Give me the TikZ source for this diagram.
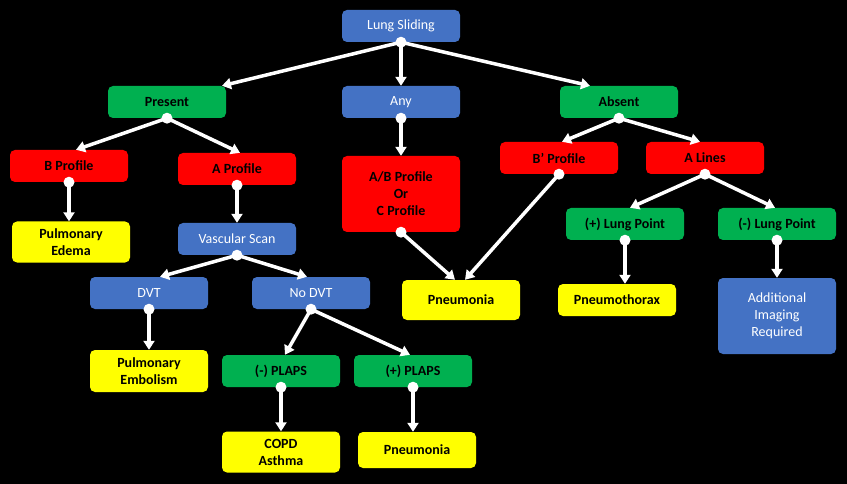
\documentclass[tikz,border=0pt]{standalone}
\usepackage{fontspec}
\setmainfont{Carlito}
\usetikzlibrary{arrows.meta,calc}
\definecolor{cblue}{RGB}{68,114,196}
\definecolor{cgreen}{RGB}{0,176,80}
\definecolor{cred}{RGB}{255,0,0}
\definecolor{cyel}{RGB}{255,255,0}
\begin{document}
\begin{tikzpicture}[x=1pt,y=-1pt,
 box/.style={draw=none,rounded corners=5pt,minimum width=118pt,minimum height=32pt,align=center,font=\fontsize{14}{17}\selectfont},
 bl/.style={box,fill=cblue,text=white},
 gr/.style={box,fill=cgreen,font=\fontsize{14}{17}\selectfont\bfseries},
 rd/.style={box,fill=cred,font=\fontsize{14}{17}\selectfont\bfseries},
 ye/.style={box,fill=cyel,font=\fontsize{14}{17}\selectfont\bfseries},
 con/.style={draw=white,line width=3.5pt,-{Triangle[length=9pt,width=11pt]},shorten >=0pt},
 dot/.style={circle,fill=white,inner sep=0pt,minimum size=11pt}]
\fill[black] (0,0) rectangle (847,484);
\useasboundingbox (0,0) rectangle (847,484);
\node[bl] (ls) at (401,26) {Lung Sliding};
\node[gr] (pr) at (167,102) {Present};
\node[bl] (any) at (401,102) {Any};
\node[gr] (ab) at (619,102) {Absent};
\node[rd] (bp) at (69,166) {B Profile};
\node[rd] (ap) at (237,169) {A Profile};
\node[rd,minimum height=76pt] (abc) at (401,194) {A/B Profile\\Or\\C Profile};
\node[rd] (bpp) at (559,158) {B’ Profile};
\node[rd] (al) at (705,158) {A Lines};
\node[ye,minimum height=41pt] (pe) at (71,242) {Pulmonary\\Edema};
\node[bl] (vs) at (237,239) {Vascular Scan};
\node[gr] (plp) at (625,224) {(+) Lung Point};
\node[gr] (mlp) at (777,224) {(-) Lung Point};
\node[bl] (dvt) at (149,293) {DVT};
\node[bl] (ndvt) at (311,293) {No DVT};
\node[ye,minimum height=40pt] (pn1) at (461,300) {Pneumonia};
\node[ye] (ptx) at (617,300) {Pneumothorax};
\node[bl,minimum height=76pt] (air) at (777,316) {Additional\\Imaging\\Required};
\node[ye,minimum height=42pt] (emb) at (149,371) {Pulmonary\\Embolism};
\node[gr] (mpl) at (281,371) {(-) PLAPS};
\node[gr] (ppl) at (413,371) {(+) PLAPS};
\node[ye,minimum height=41pt] (copd) at (281,452) {COPD\\Asthma};
\node[ye,minimum height=36pt] (pn2) at (417,450) {Pneumonia};
\foreach \a/\b/\dx in {ls/pr/55,ls/any/0,ls/ab/-29,pr/bp/7,pr/ap/3,any/abc/0,ab/bpp/3,ab/al/-5,
  bp/pe/-2,ap/vs/0,abc/pn1/-6,bpp/pn1/4,al/plp/5,al/mlp/-2,vs/dvt/11,vs/ndvt/-4,
  plp/ptx/8,mlp/air/0,dvt/emb/0,ndvt/mpl/4,ndvt/ppl/-3,mpl/copd/0,ppl/pn2/-4}
  {\draw[con] (\a.south) -- ($(\b.north)+(\dx,0)$);}
\foreach \a in {ls,pr,any,ab,bp,ap,abc,bpp,al,vs,plp,mlp,dvt,ndvt,mpl,ppl}
  {\node[dot] at (\a.south) {};}
\end{tikzpicture}
\end{document}
